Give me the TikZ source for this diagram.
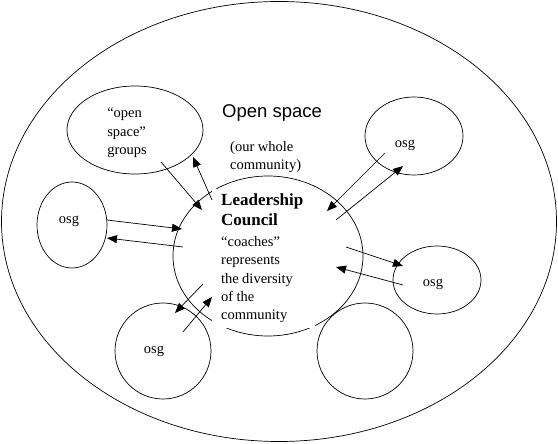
\documentclass[tikz,border=0pt]{standalone}
\usepackage{fontspec}
\setmainfont{Liberation Serif}
\newfontfamily\arialfont{Liberation Sans}
\usetikzlibrary{shapes.geometric,arrows.meta}

\begin{document}
\begin{tikzpicture}[
		x=1pt, y=-1pt,
		blob/.style={draw, ellipse, inner sep=0pt, line width=0.7pt},
		arrow/.style={-{Triangle[length=10pt, width=8pt]}, line width=0.7pt},
		txt/.style={font=\fontsize{14.5}{18.3}\selectfont, align=left, inner sep=0pt},
		lead/.style={fill=white, text width=85pt, align=left, inner xsep=9pt, inner ysep=5pt}
		]
		\useasboundingbox (0,0) rectangle (558,444);
		
		% the whole community and its groups
		\node[blob, minimum width=555pt, minimum height=440pt] (space) at (279,221.5) {};
		\node[blob, minimum width=136pt, minimum height=88pt,
			label={[txt, xshift=-8pt, yshift=-3pt]center:{“open\\space”\\groups}}] (groups) at (135,130) {};
		\node[blob, minimum width=70pt, minimum height=86pt,
			label={[txt, xshift=-3pt, yshift=4pt]center:osg}] (osgw) at (72,225) {};
		\node[blob, minimum width=98pt, minimum height=78pt,
			label={[txt, xshift=-9pt, yshift=-9pt]center:osg}] (osgne) at (414,136) {};
		\node[blob, minimum width=88pt, minimum height=68pt,
			label={[txt, xshift=-4pt, yshift=-4.5pt]center:osg}] (osge) at (437,280) {};
		\node[blob, minimum width=96pt, minimum height=96pt,
			label={[txt, xshift=-9pt]center:osg}] (osgs) at (163,351) {};
		\node[blob, minimum width=96pt, minimum height=96pt] (empty) at (365,351) {};
		
		% leadership council
		\node[blob, minimum width=190pt, minimum height=160pt] (council) at (268,256) {};
		\node[lead, anchor=north west] (coaches) at (212,188.4) {%
			\fontsize{17}{20}\selectfont\bfseries Leadership\\Council\par
			\vspace{3pt}\fontsize{14.5}{18.3}\selectfont\mdseries “coaches”\\represents\\the diversity\\of the\\community\par};
		
		\node[anchor=base west, inner sep=0pt, font=\arialfont\fontsize{18.5}{22}\selectfont] (title) at (222,118) {Open space};
		\node[txt, anchor=north west] (whole) at (230,141) {(our whole\\community)};
		
		% arrow ends
		\coordinate (grp-a) at (212,200); \coordinate (grp-b) at (193,157);
		\coordinate (grp-c) at (161,162); \coordinate (grp-d) at (202,210);
		\coordinate (w-a) at (107,220); \coordinate (w-b) at (182,229);
		\coordinate (w-c) at (183,247); \coordinate (w-d) at (107,238);
		\coordinate (ne-a) at (385,153); \coordinate (ne-b) at (327,211);
		\coordinate (ne-c) at (336,220); \coordinate (ne-d) at (403,166);
		\coordinate (e-a) at (346,247); \coordinate (e-b) at (403,266);
		\coordinate (e-c) at (403,285); \coordinate (e-d) at (336,267);
		\coordinate (s-a) at (203,284); \coordinate (s-b) at (175,313);
		\coordinate (s-c) at (183,332); \coordinate (s-d) at (212,297);
		
		\foreach \from/\to in {grp-a/grp-b, grp-c/grp-d, w-a/w-b, w-c/w-d,
			ne-a/ne-b, ne-c/ne-d, e-a/e-b, e-c/e-d, s-a/s-b, s-c/s-d}
			\draw[arrow] (\from) -- (\to);
		
	\end{tikzpicture}
\end{document}
